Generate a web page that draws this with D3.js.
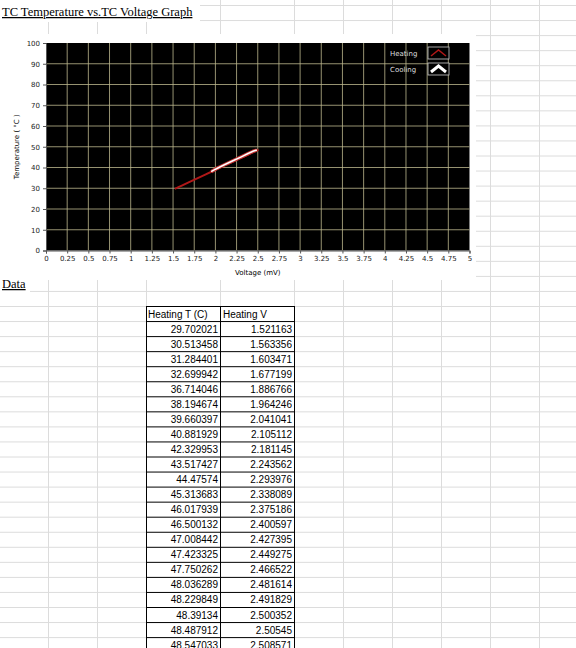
<!DOCTYPE html>
<html><head><meta charset="utf-8">
<script src="https://cdn.jsdelivr.net/npm/d3@7"></script>
<style>body{margin:0;background:#fff}svg{display:block}</style>
</head><body><div id="chart"></div>
<script>
const heatingT = [29.702021,30.513458,31.284401,32.699942,36.714046,38.194674,39.660397,40.881929,42.329953,43.517427,44.47574,45.313683,46.017939,46.500132,47.008442,47.423325,47.750262,48.036289,48.229849,48.39134,48.487912,48.547033];
const heatingTText = ["29.702021","30.513458","31.284401","32.699942","36.714046","38.194674","39.660397","40.881929","42.329953","43.517427","44.47574","45.313683","46.017939","46.500132","47.008442","47.423325","47.750262","48.036289","48.229849","48.39134","48.487912","48.547033"];
const heatingV = [1.521163,1.563356,1.603471,1.677199,1.886766,1.964246,2.041041,2.105112,2.181145,2.243562,2.293976,2.338089,2.375186,2.400597,2.427395,2.449275,2.466522,2.481614,2.491829,2.500352,2.50545,2.508571];
const heatingVText = ["1.521163","1.563356","1.603471","1.677199","1.886766","1.964246","2.041041","2.105112","2.181145","2.243562","2.293976","2.338089","2.375186","2.400597","2.427395","2.449275","2.466522","2.481614","2.491829","2.500352","2.50545","2.508571"];
const coolingV = [2.49,2.45,2.38,2.30,2.20,2.10,2.00,1.95];
const coolingT = [48.4,47.9,46.6,45.0,43.1,41.2,39.2,38.0];
const xTicks = [0,0.25,0.5,0.75,1,1.25,1.5,1.75,2,2.25,2.5,2.75,3,3.25,3.5,3.75,4,4.25,4.5,4.75,5];
const yTicks = [0,10,20,30,40,50,60,70,80,90,100];
const colLines = [48,97,146,220,294,343,392,441,490,539];

const W = 576, H = 648, rowH = 15.05;
const svg = d3.select("#chart").append("svg").attr("width", W).attr("height", H);

// spreadsheet grid
const rows = d3.range(306 - rowH * 20, H, rowH);
svg.selectAll("line.row").data(rows).enter().append("line")
  .attr("x1", 0).attr("x2", W).attr("y1", d => d + 0.5).attr("y2", d => d + 0.5)
  .attr("stroke", "#dcdcdc");
svg.selectAll("line.col").data(colLines).enter().append("line")
  .attr("y1", 0).attr("y2", H).attr("x1", d => d + 0.5).attr("x2", d => d + 0.5)
  .attr("stroke", "#dcdcdc");

// chart image area
svg.append("rect").attr("x", 0).attr("y", 34).attr("width", 476).attr("height", 246).attr("fill", "#fff");
svg.append("rect").attr("x", 0).attr("y", 0).attr("width", 200).attr("height", 22).attr("fill", "#fff");
svg.append("rect").attr("x", 0).attr("y", 278).attr("width", 30).attr("height", 16).attr("fill", "#fff");

svg.append("text").attr("x", 2).attr("y", 16).attr("font-family", "Liberation Serif").attr("font-size", 12.5)
  .attr("text-decoration", "underline").text("TC Temperature vs.TC Voltage Graph");
svg.append("text").attr("x", 2).attr("y", 288).attr("font-family", "Liberation Serif").attr("font-size", 12.5)
  .attr("text-decoration", "underline").text("Data");

const x = d3.scaleLinear().domain([0, 5]).range([46, 469.5]);
const y = d3.scaleLinear().domain([0, 100]).range([250.5, 43]);

svg.append("rect").attr("x", x(0)).attr("y", y(100)).attr("width", x(5) - x(0)).attr("height", y(0) - y(100)).attr("fill", "#000");
const g = svg.append("g");
g.selectAll("line.gx").data(xTicks.slice(1, -1)).enter().append("line")
  .attr("x1", d => x(d)).attr("x2", d => x(d)).attr("y1", y(100)).attr("y2", y(0)).attr("stroke", "#bdb88e").attr("stroke-width", 0.8);
g.selectAll("line.gy").data(yTicks.slice(1, -1)).enter().append("line")
  .attr("y1", d => y(d)).attr("y2", d => y(d)).attr("x1", x(0)).attr("x2", x(5)).attr("stroke", "#bdb88e").attr("stroke-width", 0.8);

const xAxis = svg.append("g").attr("transform", `translate(0,${y(0)})`)
  .call(d3.axisBottom(x).tickValues(xTicks).tickSize(3).tickFormat(d => String(d)));
const yAxis = svg.append("g").attr("transform", `translate(${x(0)},0)`)
  .call(d3.axisLeft(y).tickValues(yTicks).tickSize(3));
[xAxis, yAxis].forEach(a => {
  a.selectAll("text").attr("font-family", "DejaVu Sans").attr("font-size", 7).attr("fill", "#222");
  a.selectAll("line,path").attr("stroke", "#555");
});
svg.append("text").attr("x", (x(0) + x(5)) / 2).attr("y", 275).attr("text-anchor", "middle")
  .attr("font-family", "DejaVu Sans").attr("font-size", 7).text("Voltage (mV)");
svg.append("text").attr("transform", `translate(19,${(y(0) + y(100)) / 2}) rotate(-90)`).attr("text-anchor", "middle")
  .attr("font-family", "DejaVu Sans").attr("font-size", 7).text("Temperature ( °C )");

const line = d3.line().x(d => x(d[0])).y(d => y(d[1]));
const heat = heatingV.map((v, i) => [v, heatingT[i]]);
const cool = coolingV.map((v, i) => [v, coolingT[i]]);
svg.append("path").attr("d", line(heat)).attr("fill", "none").attr("stroke", "#b01818").attr("stroke-width", 2);
svg.append("path").attr("d", line(cool)).attr("fill", "none").attr("stroke", "#c03030").attr("stroke-width", 3.5);
svg.append("path").attr("d", line(cool)).attr("fill", "none").attr("stroke", "#fff").attr("stroke-width", 1.6);

// legend
const leg = [["Heating", "#b01818"], ["Cooling", "#fff"]];
leg.forEach((l, i) => {
  const ly = 53 + i * 16;
  svg.append("text").attr("x", 390).attr("y", ly + 3).attr("font-family", "DejaVu Sans").attr("font-size", 7).attr("fill", "#ddd").text(l[0]);
  svg.append("rect").attr("x", 428).attr("y", ly - 6).attr("width", 21).attr("height", 12).attr("fill", "#000").attr("stroke", "#ccc").attr("stroke-width", 0.8);
  svg.append("path").attr("d", `M431,${ly + 3}L438.5,${ly - 3}L446,${ly + 3}`).attr("fill", "none").attr("stroke", l[1]).attr("stroke-width", i ? 3 : 1.5);
});

// table
const tx = [146, 220, 294], tTop = 306;
const tbl = svg.append("g");
const nRows = heatingT.length + 1;
tbl.append("rect").attr("x", tx[0] + 0.5).attr("y", tTop + 0.5).attr("width", tx[2] - tx[0]).attr("height", rowH * nRows).attr("fill", "#fff").attr("stroke", "#000");
tbl.append("line").attr("x1", tx[1] + 0.5).attr("x2", tx[1] + 0.5).attr("y1", tTop).attr("y2", tTop + rowH * nRows).attr("stroke", "#000");
tbl.selectAll("line.r").data(d3.range(1, nRows)).enter().append("line")
  .attr("x1", tx[0]).attr("x2", tx[2]).attr("y1", d => tTop + d * rowH + 0.5).attr("y2", d => tTop + d * rowH + 0.5).attr("stroke", "#000");
const font = t => t.attr("font-family", "Liberation Sans").attr("font-size", 10);
font(tbl.append("text").attr("x", tx[0] + 2).attr("y", tTop + 11.5).text("Heating T (C)"));
font(tbl.append("text").attr("x", tx[1] + 3).attr("y", tTop + 11.5).text("Heating V"));
heatingTText.forEach((t, i) => {
  font(tbl.append("text").attr("x", tx[1] - 2).attr("y", tTop + (i + 1) * rowH + 11.5).attr("text-anchor", "end").text(t));
  font(tbl.append("text").attr("x", tx[2] - 2).attr("y", tTop + (i + 1) * rowH + 11.5).attr("text-anchor", "end").text(heatingVText[i]));
});
</script></body></html>
